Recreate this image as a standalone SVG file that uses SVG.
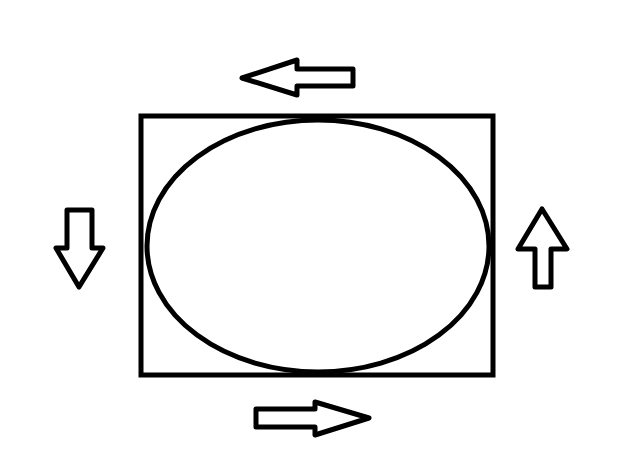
<svg xmlns="http://www.w3.org/2000/svg" width="620" height="471" viewBox="0 0 620 471">
<style>
.s{fill:none;stroke:#000;stroke-width:5;stroke-linejoin:miter}
.a{fill:#fff;stroke:#000;stroke-width:5;stroke-linejoin:round}
</style>
<rect width="620" height="471" fill="#fff"/>
<g id="frame">
<rect class="s" x="141" y="116" width="352" height="259"/>
</g>
<g id="ellipse">
<ellipse class="s" cx="318" cy="246" rx="171" ry="126"/>
</g>
<g id="connectors">
<polygon id="arrow-top" class="a" points="242,78 297,60 297,69 353,69 353,86 297,86 297,95"/>
<polygon id="arrow-left" class="a" points="67,210 92,210 92,248 103,248 79,287 56,248 67,248"/>
<polygon id="arrow-right" class="a" points="542,209 567,249 551,249 551,287 535,287 535,249 518,249"/>
<polygon id="arrow-bottom" class="a" points="256,409 315,409 315,402 369,418 315,435 315,427 256,427"/>
</g>
</svg>
